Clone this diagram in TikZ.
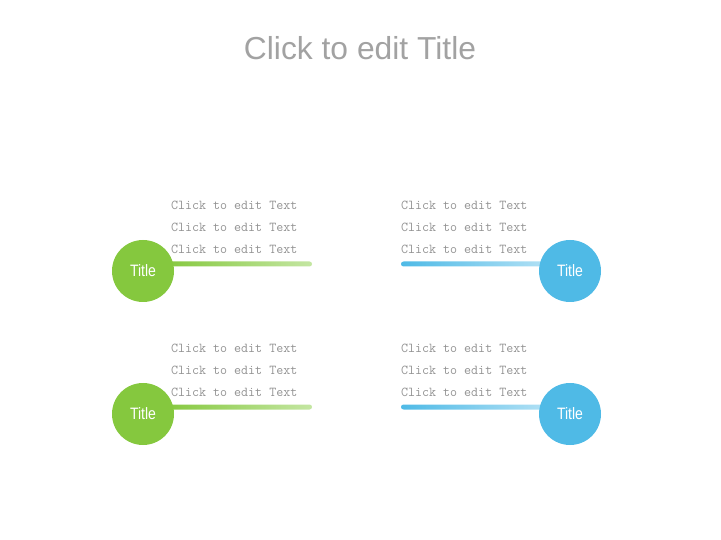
\documentclass[tikz,border=0pt]{standalone}
\usepackage{fontspec}
\setmainfont{Liberation Sans}
\definecolor{grn}{HTML}{85C83E}
\definecolor{grnL}{HTML}{C4E6A2}
\definecolor{blu}{HTML}{4FBAE6}
\definecolor{bluL}{HTML}{B2E1F5}
\definecolor{txtgray}{HTML}{929292}
\definecolor{titlegray}{HTML}{A2A2A2}
\tikzset{
  bubble/.style={circle,minimum size=62pt,inner sep=0pt,text=white,
    font=\fontsize{16.5}{17}\selectfont},
  bodytext/.style={anchor=west,inner sep=0pt,text=txtgray,
    font=\ttfamily\fontsize{13.6}{14}\selectfont},
}
\begin{document}
\begin{tikzpicture}[x=1pt,y=-1pt]
\useasboundingbox (0,0) rectangle (721,540);
\node[text=titlegray,font=\fontsize{31.8}{34}\selectfont] (title) at (360,48) {Click to edit Title};
% top-left
\shade[left color=grn,right color=grnL,rounded corners=2.5pt] (165,261.5) rectangle (312,266.5);
\node[bubble,fill=grn] (t1) at (143,271) {\scalebox{0.85}[1]{Title}};
\node[bodytext] (a1) at (171,205) {Click to edit Text};
\node[bodytext] (a2) at (171,227) {Click to edit Text};
\node[bodytext] (a3) at (171,249) {Click to edit Text};
% top-right
\shade[left color=blu,right color=bluL,rounded corners=2.5pt] (401,261.5) rectangle (548,266.5);
\node[bubble,fill=blu] (t2) at (570,271) {\scalebox{0.85}[1]{Title}};
\node[bodytext] (b1) at (401,205) {Click to edit Text};
\node[bodytext] (b2) at (401,227) {Click to edit Text};
\node[bodytext] (b3) at (401,249) {Click to edit Text};
% bottom-left
\shade[left color=grn,right color=grnL,rounded corners=2.5pt] (165,404.5) rectangle (312,409.5);
\node[bubble,fill=grn] (t3) at (143,414) {\scalebox{0.85}[1]{Title}};
\node[bodytext] (c1) at (171,348) {Click to edit Text};
\node[bodytext] (c2) at (171,370) {Click to edit Text};
\node[bodytext] (c3) at (171,392) {Click to edit Text};
% bottom-right
\shade[left color=blu,right color=bluL,rounded corners=2.5pt] (401,404.5) rectangle (548,409.5);
\node[bubble,fill=blu] (t4) at (570,414) {\scalebox{0.85}[1]{Title}};
\node[bodytext] (d1) at (401,348) {Click to edit Text};
\node[bodytext] (d2) at (401,370) {Click to edit Text};
\node[bodytext] (d3) at (401,392) {Click to edit Text};
\end{tikzpicture}
\end{document}
